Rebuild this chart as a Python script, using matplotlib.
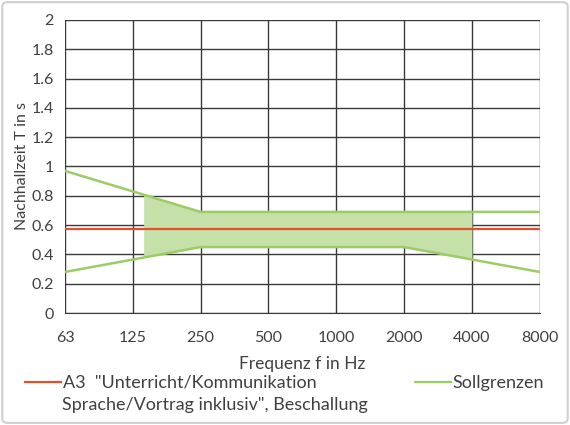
import numpy as np
import matplotlib.pyplot as plt
from matplotlib.lines import Line2D
from matplotlib.patches import FancyBboxPatch

plt.rcParams['font.family'] = ['Lato', 'DejaVu Sans']

# data
freqs = ["63", "125", "250", "500", "1000", "2000", "4000", "8000"]
upper_limit = [0.97, 0.83, 0.69, 0.69, 0.69, 0.69, 0.69, 0.69]
lower_limit = [0.28, 0.365, 0.45, 0.45, 0.45, 0.45, 0.365, 0.28]
target_a3 = [0.57] * len(freqs)
fill_start = 1.16  # tolerance band starts a bit after 125 Hz
fill_end = 6       # ... and ends at 4000 Hz

red = "#e2502c"
green = "#9ccc65"
fill_green = "#c5e0a8"
grid_col = "#3a3a3a"
txt_col = "#404040"

idx = np.arange(len(freqs))

fig = plt.figure(figsize=(5.7, 4.25), dpi=100)
ax = fig.add_axes([0.114, 0.2635, 0.833, 0.6895])

# band between the limits
xf = np.concatenate([[fill_start], idx[(idx > fill_start) & (idx <= fill_end)]])
ax.fill_between(xf, np.interp(xf, idx, upper_limit), np.interp(xf, idx, lower_limit),
                color=fill_green, lw=0, zorder=2)

ax.plot(idx, upper_limit, color=green, lw=1.8, zorder=3)
ax.plot(idx, lower_limit, color=green, lw=1.8, zorder=3)
ax.plot(idx, target_a3, color=red, lw=1.6, zorder=4)

ax.set_xlim(0, len(freqs) - 1)
ax.set_ylim(0, 2)
ax.set_xticks(idx)
ax.set_xticklabels(freqs)
yt = np.round(np.arange(0, 2.01, 0.2), 1)
ax.set_yticks(yt)
ax.set_yticklabels([f"{v:g}" for v in yt])
ax.tick_params(length=0, labelsize=11.5, colors=txt_col, pad=8)
ax.tick_params(axis='x', pad=13)
ax.grid(True, color=grid_col, lw=1, zorder=1)
ax.set_axisbelow(True)
for side in ["top", "right", "left"]:
    ax.spines[side].set_visible(False)
ax.spines["bottom"].set_color(grid_col)

ax.set_xlabel("Frequenz f in Hz", fontsize=12.5, color=txt_col, labelpad=8)
ax.set_ylabel("Nachhallzeit T in s", fontsize=11.5, color=txt_col, labelpad=2)

leg_kw = dict(loc="center left", frameon=False, fontsize=13, handlelength=2.0,
              handletextpad=0.1, labelcolor=txt_col, borderaxespad=0, borderpad=0)
fig.legend([Line2D([], [], color=red, lw=1.6)], ['A3  "Unterricht/Kommunikation'],
           bbox_to_anchor=(0.044, 0.099), **leg_kw)
fig.legend([Line2D([], [], color=green, lw=1.6)], ['Sollgrenzen'],
           bbox_to_anchor=(0.728, 0.099), **leg_kw)
fig.text(0.109, 0.047, 'Sprache/Vortrag inklusiv", Beschallung', fontsize=13,
         color=txt_col, va="center")

fig.patches.append(FancyBboxPatch((0.004, 0.005), 0.992, 0.99,
                                  boxstyle="round,pad=0,rounding_size=0.01",
                                  transform=fig.transFigure, fill=False,
                                  ec="#d0d0d0", lw=1.5))

fig.savefig("out.png", dpi=100)
